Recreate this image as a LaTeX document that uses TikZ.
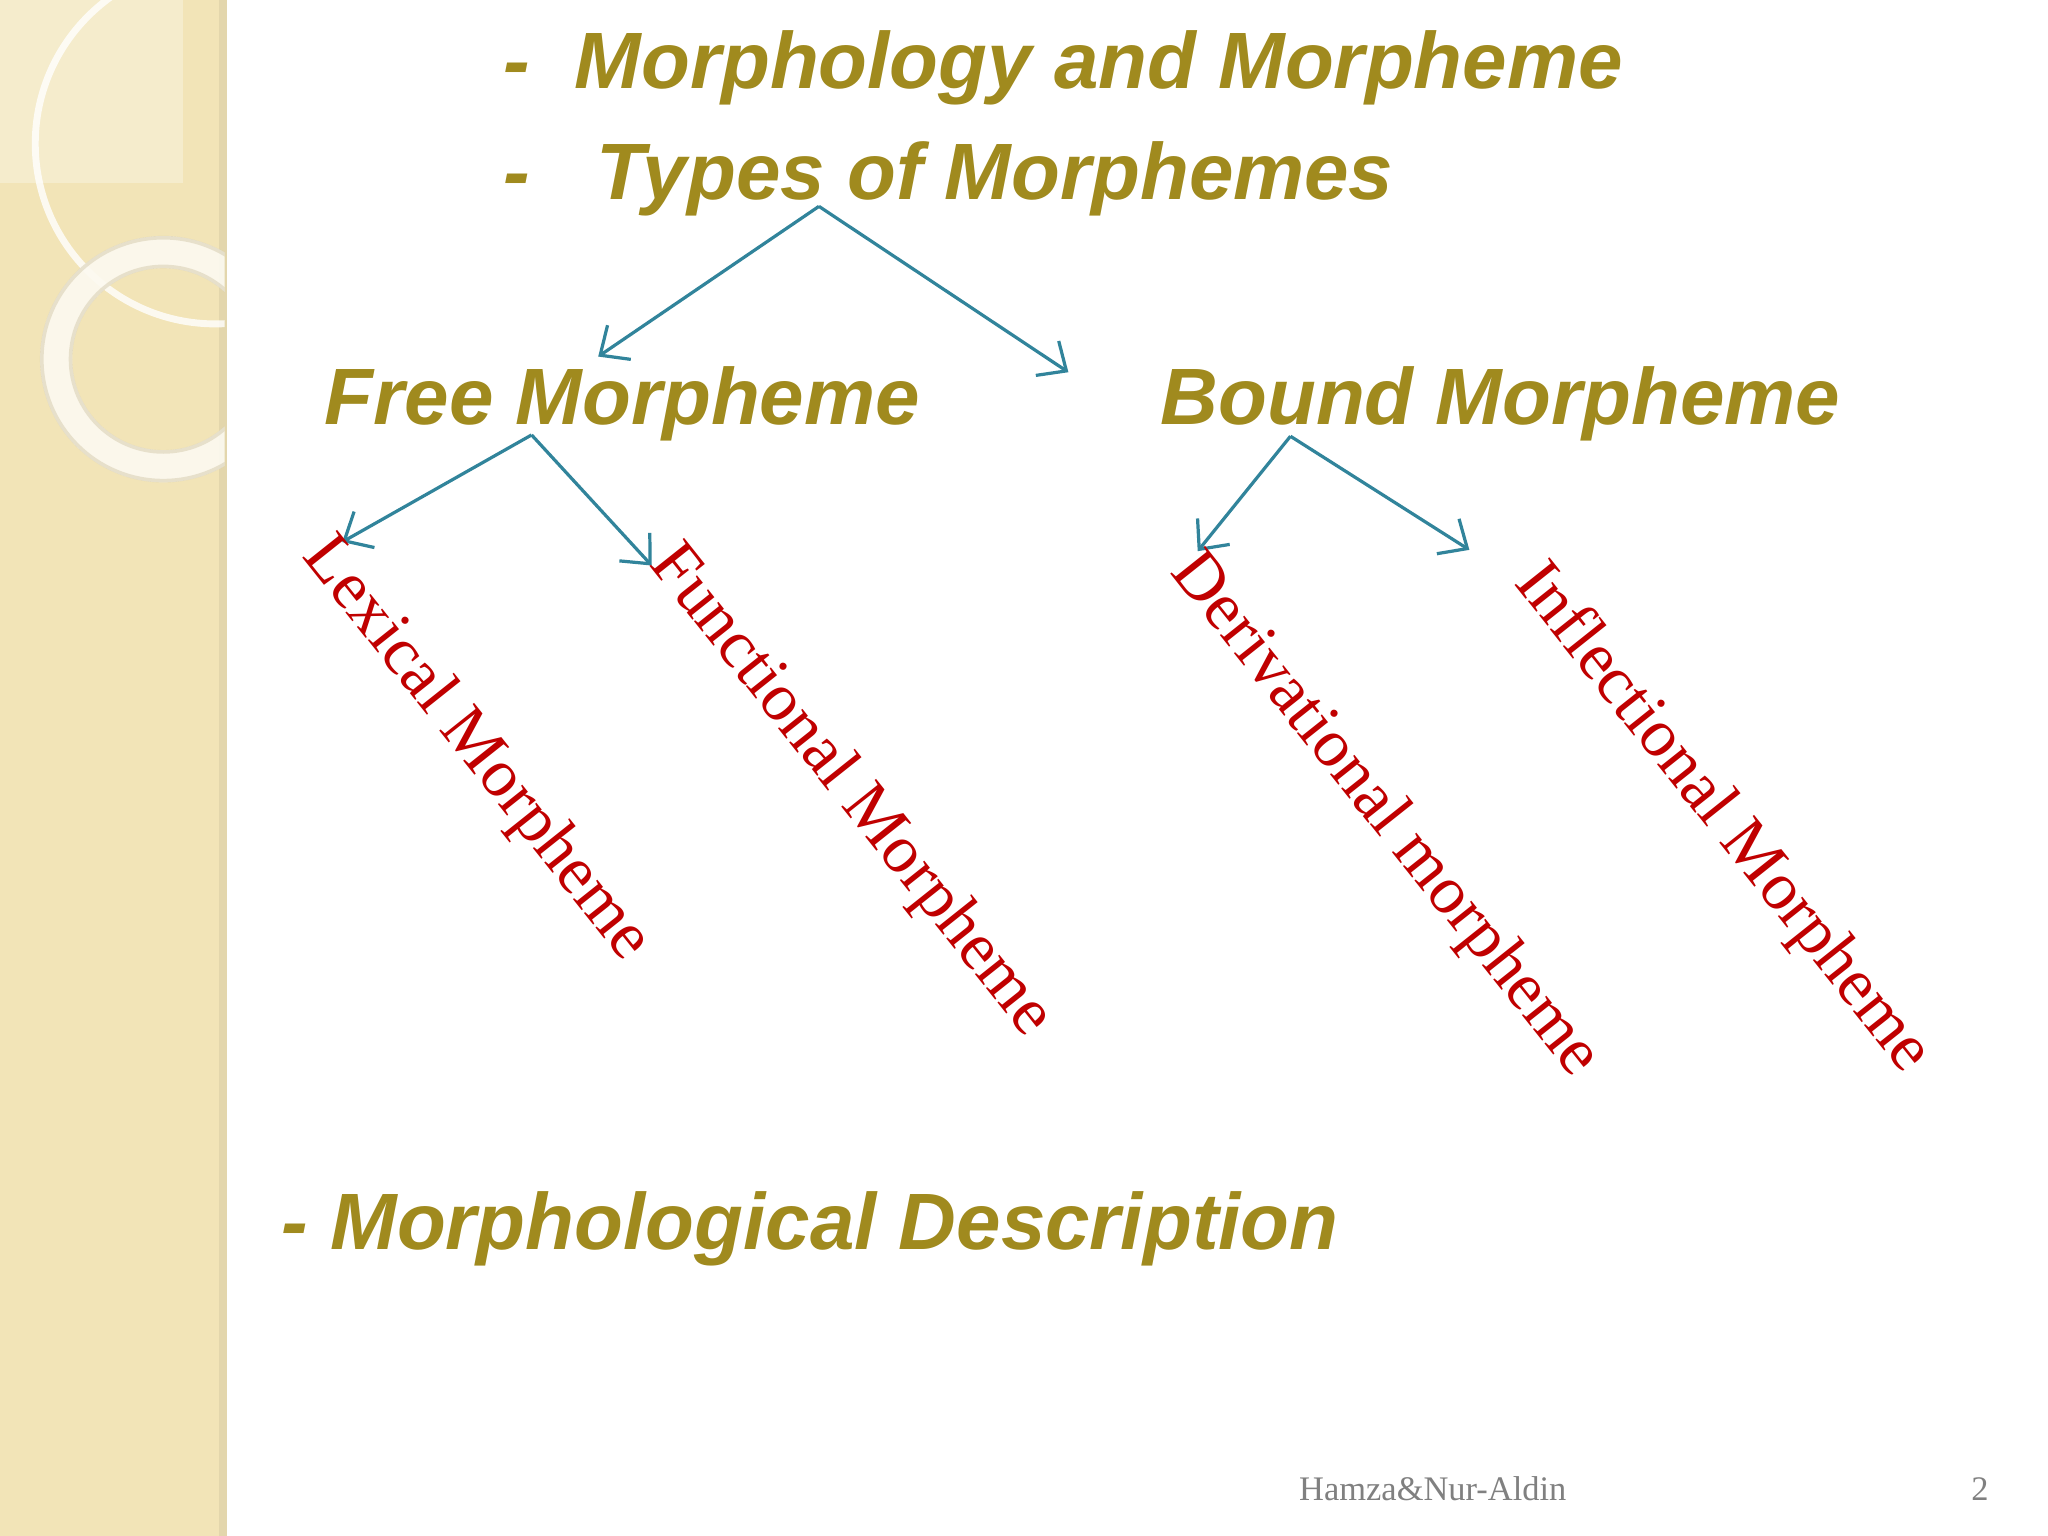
\documentclass[tikz,border=0pt]{standalone}
\usepackage{fontspec}
\setmainfont{Liberation Serif}
\newfontfamily\hd{Liberation Sans}
\definecolor{gold}{RGB}{160,138,30}
\definecolor{redt}{RGB}{192,0,0}
\definecolor{teal}{RGB}{49,132,155}
\definecolor{beige}{RGB}{242,228,183}
\usetikzlibrary{arrows.meta}
\begin{document}
\begin{tikzpicture}[x=0.01cm,y=-0.01cm,
 title/.style={font=\hd\bfseries\itshape\fontsize{17.4}{20}\selectfont,text=gold,anchor=west,inner sep=0},
 leaf/.style={font=\fontsize{14.8}{17}\selectfont,text=redt,anchor=west,rotate=-51.5,inner sep=0},
 arr/.style={teal,line width=0.7pt,-{Straight Barb[length=5pt,width=9pt]}}]
\useasboundingbox (0,0) rectangle (1568,1176);
\fill[white] (0,0) rectangle (1568,1176);
\fill[beige] (0,0) rectangle (172,1176);
\fill[beige!70!black!20!beige] (168,0) rectangle (174,1176);
\begin{scope}
\clip (0,0) rectangle (172,1176);
\fill[white,opacity=0.3] (0,0) rectangle (140,140);
\draw[white,opacity=0.8,line width=1.5pt] (165,110) circle (138);
\draw[white!80!beige,opacity=0.9,line width=7pt] (125,275) circle (82);
\draw[beige!80!black,opacity=0.35,line width=0.8pt] (125,275) circle (93);
\draw[beige!80!black,opacity=0.35,line width=0.8pt] (125,275) circle (71);
\end{scope}
\node[title] (t1) at (385,52) {-\ \ Morphology and Morpheme};
\node[title] (t2) at (385,137) {-\ \ \ Types of Morphemes};
\node[title] (free) at (248,309) {Free Morpheme};
\node[title] (bound) at (888,309) {Bound Morpheme};
\node[title] (desc) at (215,941) {- Morphological Description};
\coordinate (a0) at (627,158);
\coordinate (a1) at (458,273);
\coordinate (a2) at (818,285);
\coordinate (f0) at (407,333);
\coordinate (f1) at (262,415);
\coordinate (f2) at (499,433);
\coordinate (b0) at (988,334);
\coordinate (b1) at (917,422);
\coordinate (b2) at (1125,421);
\draw[arr] (a0) -- (a1); \draw[arr] (a0) -- (a2);
\draw[arr] (f0) -- (f1); \draw[arr] (f0) -- (f2);
\draw[arr] (b0) -- (b1); \draw[arr] (b0) -- (b2);
\node[leaf] (lex) at (240,418) {Lexical Morpheme};
\node[leaf] (fun) at (506,424) {Functional Morpheme};
\node[leaf] (der) at (905,430) {Derivational morpheme};
\node[leaf] (inf) at (1168,438) {Inflectional Morpheme};
\node[font=\fontsize{7.5}{9}\selectfont,text=gray] (ft) at (1097,1140) {Hamza\&Nur-Aldin};
\node[font=\fontsize{7.5}{9}\selectfont,text=gray] (pg) at (1516,1140) {2};
\end{tikzpicture}
\end{document}
